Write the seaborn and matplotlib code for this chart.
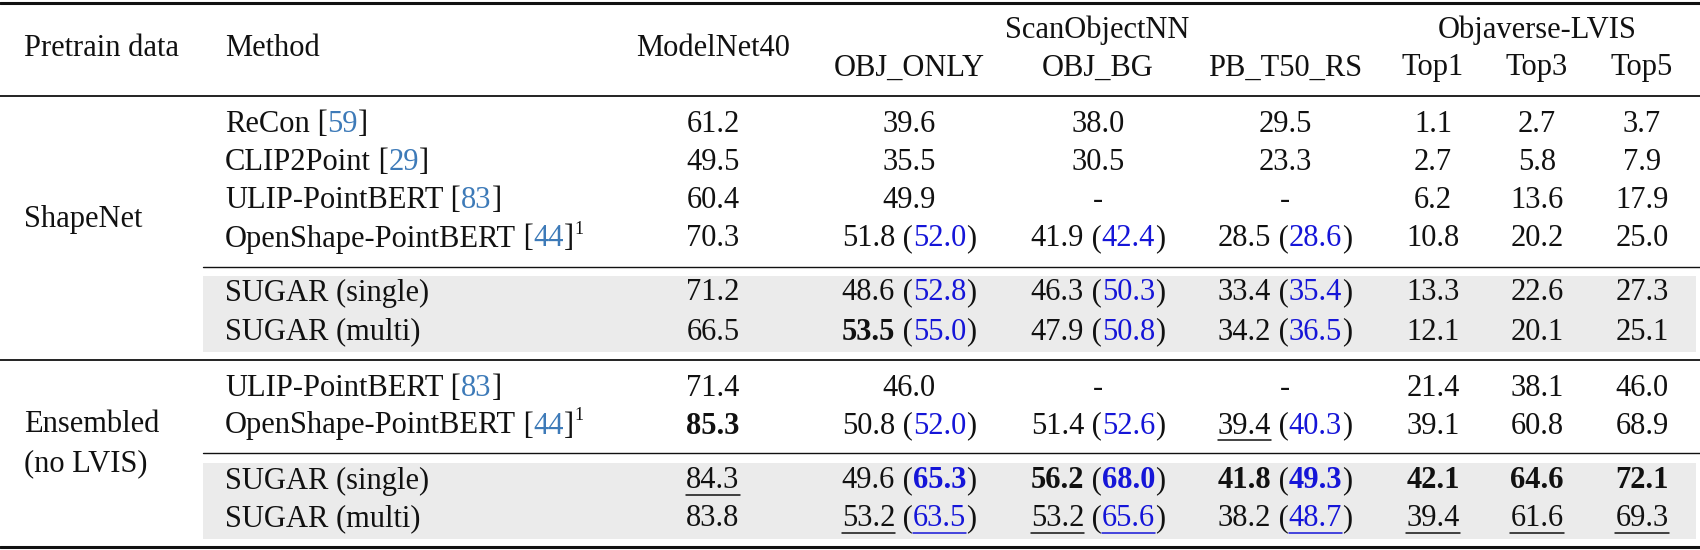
import matplotlib
matplotlib.use("Agg")
import matplotlib.pyplot as plt
import seaborn as sns

sns.set_theme(style="white")
plt.rcParams["font.family"] = ["Liberation Serif", "DejaVu Serif"]

# data: "**x**" = bold, "__x__" = underlined, "(y)" = best-of value shown in blue
pretrain_groups = ["ShapeNet", "Ensembled\n(no LVIS)"]
methods = ["ReCon", "CLIP2Point", "ULIP-PointBERT", "OpenShape-PointBERT",
           "SUGAR (single)", "SUGAR (multi)",
           "ULIP-PointBERT", "OpenShape-PointBERT",
           "SUGAR (single)", "SUGAR (multi)"]
citations = ["59", "29", "83", "44", None, None, "83", "44", None, None]
footnote = [False, False, False, True, False, False, False, True, False, False]
columns = ["ModelNet40", "OBJ_ONLY", "OBJ_BG", "PB_T50_RS", "Top1", "Top3", "Top5"]
modelnet40 = ["61.2", "49.5", "60.4", "70.3", "71.2", "66.5", "71.4", "**85.3**", "__84.3__", "83.8"]
obj_only = ["39.6", "35.5", "49.9", "51.8|52.0", "48.6|52.8", "**53.5**|55.0",
            "46.0", "50.8|52.0", "49.6|**65.3**", "__53.2__|__63.5__"]
obj_bg = ["38.0", "30.5", "-", "41.9|42.4", "46.3|50.3", "47.9|50.8",
          "-", "51.4|52.6", "**56.2**|**68.0**", "__53.2__|__65.6__"]
pb_t50_rs = ["29.5", "23.3", "-", "28.5|28.6", "33.4|35.4", "34.2|36.5",
             "-", "__39.4__|40.3", "**41.8**|**49.3**", "38.2|__48.7__"]
top1 = ["1.1", "2.7", "6.2", "10.8", "13.3", "12.1", "21.4", "39.1", "**42.1**", "__39.4__"]
top3 = ["2.7", "5.8", "13.6", "20.2", "22.6", "20.1", "38.1", "60.8", "**64.6**", "__61.6__"]
top5 = ["3.7", "7.9", "17.9", "25.0", "27.3", "25.1", "46.0", "68.9", "**72.1**", "__69.3__"]

col_data = [modelnet40, obj_only, obj_bg, pb_t50_rs, top1, top3, top5]
col_x = [713, 909, 1098, 1285, 1433, 1537, 1642]
row_y = [125, 162, 200, 239, 293, 332, 388, 426, 481, 519]
FS = 22
BLACK = "#111111"
CITE = "#3d7ab8"
BLUE = "#1515d8"
GRAY = "#ebebeb"

fig = plt.figure(figsize=(17, 5.5), dpi=100)
ax = fig.add_axes([0, 0, 1, 1])
ax.set_xlim(0, 1700)
ax.set_ylim(550, 0)
ax.axis("off")
fig.canvas.draw()
renderer = fig.canvas.get_renderer()
inv = ax.transData.inverted()


def parse(tok, color):
    bold = tok.startswith("**")
    under = tok.startswith("__")
    tok = tok.strip("*_")
    return dict(text=tok, color=color, weight="bold" if bold else "normal", under=under)


def width_of(seg):
    t = ax.text(0, 0, seg["text"], fontsize=seg.get("size", FS), weight=seg["weight"])
    bb = t.get_window_extent(renderer)
    t.remove()
    return bb.width


def draw_segments(segs, x, y, align="center"):
    widths = [width_of(s) for s in segs]
    total = sum(widths)
    x0_disp = ax.transData.transform((x, y))[0]
    if align == "center":
        x0_disp -= total / 2
    cur = x0_disp
    for s, w in zip(segs, widths):
        xd = inv.transform((cur, 0))[0]
        dy = s.get("dy", 0)
        ax.text(xd, y + dy, s["text"], fontsize=s.get("size", FS), weight=s["weight"],
                color=s["color"], ha="left", va="center")
        if s["under"]:
            xe = inv.transform((cur + w, 0))[0]
            ax.plot([xd, xe], [y + 14, y + 14], color=s["color"], lw=1.1)
        cur += w


def cell(val, x, y):
    if "|" in val:
        a, b = val.split("|")
        pb = parse(b, BLUE)
        segs = [parse(a, BLACK),
                dict(text=" (", color=BLACK, weight="normal", under=False),
                pb,
                dict(text=")", color=BLACK, weight="normal", under=False)]
    else:
        segs = [parse(val, BLACK)]
    draw_segments(segs, x, y)


# gray bands behind SUGAR rows
for top, bot in [(276, 352), (463, 539)]:
    ax.fill_between([203, 1696], top, bot, color=GRAY, lw=0, zorder=0)

# rules
ax.plot([0, 1700], [3, 3], color=BLACK, lw=2.2)
ax.plot([0, 1700], [96, 96], color=BLACK, lw=1.3)
ax.plot([203, 1700], [267, 267], color=BLACK, lw=1.0)
ax.plot([0, 1700], [360, 360], color=BLACK, lw=1.3)
ax.plot([203, 1700], [453, 453], color=BLACK, lw=1.0)
ax.plot([0, 1700], [547, 547], color=BLACK, lw=2.2)

# header
ax.text(24, 49, "Pretrain data", fontsize=FS, color=BLACK, va="center")
ax.text(225, 49, "Method", fontsize=FS, color=BLACK, va="center")
ax.text(col_x[0], 49, columns[0], fontsize=FS, color=BLACK, va="center", ha="center")
ax.text(1097, 30, "ScanObjectNN", fontsize=FS, color=BLACK, va="center", ha="center")
ax.text(1537, 30, "Objaverse-LVIS", fontsize=FS, color=BLACK, va="center", ha="center")
for name, x in zip(columns[1:], col_x[1:]):
    ax.text(x, 68, name, fontsize=FS, color=BLACK, va="center", ha="center")

# group labels
ax.text(24, 219, pretrain_groups[0], fontsize=FS, color=BLACK, va="center")
ax.text(24, 444, pretrain_groups[1], fontsize=FS, color=BLACK, va="center", linespacing=1.45)

# methods
for m, c, f, y in zip(methods, citations, footnote, row_y):
    segs = [dict(text=m, color=BLACK, weight="normal", under=False)]
    if c:
        segs += [dict(text=" [", color=BLACK, weight="normal", under=False),
                 dict(text=c, color=CITE, weight="normal", under=False),
                 dict(text="]", color=BLACK, weight="normal", under=False)]
    if f:
        segs.append(dict(text="1", color=BLACK, weight="normal", under=False, size=13, dy=-10))
    draw_segments(segs, 225, y, align="left")

# values
for data, x in zip(col_data, col_x):
    for val, y in zip(data, row_y):
        cell(val, x, y)

fig.savefig("out.png", dpi=100)
